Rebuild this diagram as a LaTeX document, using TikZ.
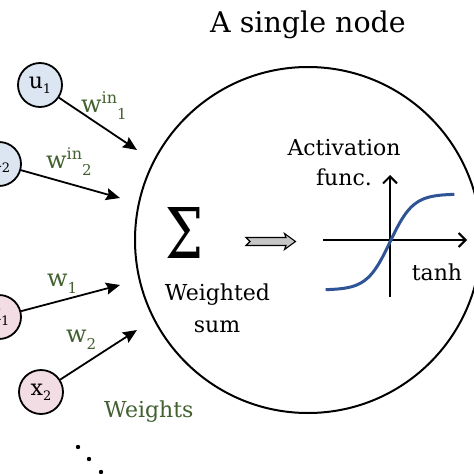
\documentclass[tikz,border=0pt]{standalone}
\usepackage{graphicx}
\usepackage{fontspec}
\setmainfont{DejaVu Serif}
\usetikzlibrary{arrows.meta}
\definecolor{wgreen}{RGB}{66,96,48}
\definecolor{ufill}{RGB}{220,230,243}
\definecolor{xfill}{RGB}{243,221,229}
\definecolor{tanhblue}{RGB}{47,84,150}
\newcommand\setfs[1]{\fontsize{#1}{#1}\selectfont}
\tikzset{
  inode/.style={circle, draw, line width=1.8pt, minimum size=44pt, inner sep=0pt, font=\setfs{22}},
  wire/.style={line width=1.8pt, -{Stealth[length=14pt,width=12pt,inset=2pt]}},
  wlabel/.style={text=wgreen, anchor=base west, inner sep=0pt, font=\setfs{24}},
  body/.style={inner sep=0pt, anchor=base, font=\setfs{22}},
  axisline/.style={line width=2pt, -{Straight Barb[length=7pt,width=14pt]}},
}
\newcommand\wsup[1]{\raisebox{9pt}{\setfs{16}#1}}
\newcommand\wsub[1]{\raisebox{-7pt}{\setfs{15}#1}}
\newcommand\nsub[1]{\raisebox{-5pt}{\setfs{13}#1}}
\begin{document}
\begin{tikzpicture}[x=1pt,y=-1pt]
\useasboundingbox (0,0) rectangle (474,474);
\fill[white] (0,0) rectangle (474,474);
\clip (0,0) rectangle (474,474);

% big cell
\node[circle, draw, line width=2pt, minimum size=346pt, inner sep=0pt] (cell) at (308,240) {};

% title
\node[inner sep=0pt, anchor=base west, font=\setfs{28.5}] (title) at (210,32) {A single node};

% input nodes
\node[inode, fill=ufill] (u1) at (40,85) {u\nsub{1}};
\node[inode, fill=ufill] (u2) at (-1,164) {u\nsub{2}};
\node[inode, fill=xfill] (x1) at (-1,317) {x\nsub{1}};
\node[inode, fill=xfill] (x2) at (41,392) {x\nsub{2}};

% arrow tips
\coordinate (t1) at (137,150);
\coordinate (t2) at (120,198);
\coordinate (t3) at (120,285);
\coordinate (t4) at (137,330);

\draw[wire] (u1) -- (t1);
\draw[wire] (u2) -- (t2);
\draw[wire] (x1) -- (t3);
\draw[wire] (x2) -- (t4);

% weight labels
\node[wlabel] (lw1) at (81,112) {w\wsup{in}\wsub{1}};
\node[wlabel] (lw2) at (46,168) {w\wsup{in}\wsub{2}};
\node[wlabel] (lw3) at (47,286) {w\wsub{1}};
\node[wlabel] (lw4) at (66,342) {w\wsub{2}};
\node[wlabel, font=\setfs{22}] (weights) at (104,417) {Weights};

% dots
\fill (78,447) circle (2.2pt);
\fill (89,459) circle (2.2pt);
\fill (101,472) circle (2.2pt);

% sigma
\node[inner sep=0pt] (sig) at (184,232.5) {\resizebox{38pt}{51pt}{Σ}};
\node[body] (ws1) at (217.5,300) {Weighted};
\node[body] (ws2) at (217,332) {sum};

% gray arrow
\draw[line width=1.1pt, fill=gray!45]
  (246,237.5) -- (286,237.5) -- (284.5,233.5) -- (295.5,241.5) -- (284.5,249.5)
  -- (286,245.5) -- (246,245.5) -- (250,241.5) -- cycle;

% activation
\node[body] (act1) at (344,155) {Activation};
\node[body] (act2) at (344,185) {func.};
\draw[axisline] (323,240) -- (467,240);
\draw[axisline] (390,297) -- (390,175);
\draw[tanhblue, line width=3pt] plot[domain=-2.8:2.8, samples=90] ({390+23*\x},{242-48*tanh(\x)});
\node[body] (tanh) at (437,280) {tanh};
\end{tikzpicture}
\end{document}
